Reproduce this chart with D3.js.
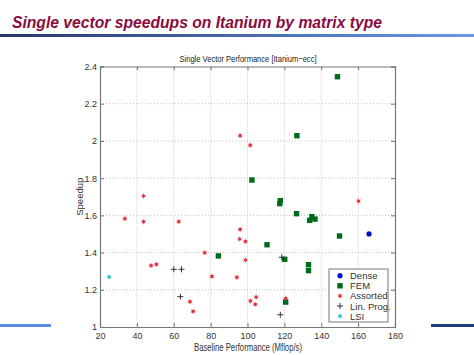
<!DOCTYPE html>
<html><head><meta charset="utf-8">
<script src="https://cdn.jsdelivr.net/npm/d3@7"></script>
<style>body{margin:0;background:#fff}svg{display:block}</style>
</head><body>
<svg id="c" width="474" height="355"></svg>
<script>
const xTicks=[20,40,60,80,100,120,140,160,180];
const yTicks=[1,1.2,1.4,1.6,1.8,2,2.2,2.4];
const seriesNames=["Dense","FEM","Assorted","Lin. Prog.","LSI"];
const denseX=[165.9], denseY=[1.50];
const femX=[148.8,126.8,102.4,117.8,117.5,126.6,134.9,133.7,136.6,149.9,110.6,84.2,120.2,133.1,133.1,120.7];
const femY=[2.345,2.028,1.79,1.679,1.663,1.609,1.593,1.573,1.580,1.489,1.442,1.382,1.364,1.335,1.303,1.134];
const assortedX=[96.0,101.5,160.2,96.0,95.7,98.9,98.9,94.2,104.7,101.6,104.2,120.7,43.6,33.5,43.6,62.7,76.8,47.7,50.6,80.7,68.8,70.5];
const assortedY=[2.028,1.977,1.677,1.525,1.473,1.46,1.36,1.267,1.161,1.14,1.122,1.154,1.704,1.582,1.566,1.566,1.399,1.33,1.337,1.272,1.136,1.084];
const linX=[118.6,117.8,60.0,64.2,63.6];
const linY=[1.375,1.066,1.31,1.31,1.163];
const lsiX=[25.0];
const lsiY=[1.269];

(function(){
const svg=d3.select("#c");
const defs=svg.append("defs");
const g1=defs.append("linearGradient").attr("id","hg").attr("x1","0").attr("x2","1");
g1.append("stop").attr("offset","0").attr("stop-color","#26386a");
g1.append("stop").attr("offset","1").attr("stop-color","#6b98ea");

// Header
svg.append("text").attr("x",12).attr("y",28)
  .attr("font-family","'Liberation Sans',Arial,sans-serif")
  .attr("font-size",16).attr("font-weight","bold").attr("font-style","italic")
  .attr("fill","#8a0b3e").attr("textLength",370).attr("lengthAdjust","spacingAndGlyphs")
  .text("Single vector speedups on Itanium by matrix type");
svg.append("rect").attr("x",0).attr("y",34).attr("width",474).attr("height",3).attr("fill","url(#hg)");
svg.append("rect").attr("x",0).attr("y",324).attr("width",51).attr("height",3).attr("fill","#5b8be8");
svg.append("rect").attr("x",431).attr("y",324).attr("width",43).attr("height",3).attr("fill","#1f3c78");

const L=100,R=395,T=66.5,B=327;
const x=d3.scaleLinear().domain([20,180]).range([L,R]);
const y=d3.scaleLinear().domain([1,2.4]).range([B,T]);
const font="'Liberation Sans',Arial,sans-serif";
const tc="#333";

// grid
const grid=svg.append("g").attr("stroke","#b0b0b0").attr("stroke-width",0.8).attr("stroke-dasharray","1,2");
xTicks.slice(1,-1).forEach(v=>grid.append("line").attr("x1",x(v)).attr("x2",x(v)).attr("y1",T).attr("y2",B));
yTicks.slice(1,-1).forEach(v=>grid.append("line").attr("x1",L).attr("x2",R).attr("y1",y(v)).attr("y2",y(v)));

// axes
const ax=svg.append("g").attr("font-family",font);
const axB=ax.append("g").attr("transform",`translate(0,${B})`).call(d3.axisBottom(x).tickValues(xTicks).tickSize(-4).tickPadding(6).tickFormat(d3.format("d")));
const axT=ax.append("g").attr("transform",`translate(0,${T})`).call(d3.axisTop(x).tickValues(xTicks).tickSize(-4).tickFormat(""));
const axL=ax.append("g").attr("transform",`translate(${L},0)`).call(d3.axisLeft(y).tickValues(yTicks).tickSize(-4).tickPadding(3).tickFormat(d=>String(+d.toFixed(1))));
const axR=ax.append("g").attr("transform",`translate(${R},0)`).call(d3.axisRight(y).tickValues(yTicks).tickSize(-4).tickFormat(""));
[axB,axT,axL,axR].forEach(a=>{
  a.selectAll(".domain").attr("stroke","#777").attr("stroke-width",1.2);
  a.selectAll(".tick line").attr("stroke","#777");
  a.selectAll("text").attr("fill",tc).attr("font-size",9).attr("font-family",font);
});

// labels
svg.append("text").attr("x",248).attr("y",62).attr("text-anchor","middle").attr("font-family",font)
  .attr("font-size",9.5).attr("fill","#222").attr("textLength",137).attr("lengthAdjust","spacingAndGlyphs")
  .text("Single Vector Performance [Itanium\u2212ecc]");
svg.append("text").attr("x",248).attr("y",351).attr("text-anchor","middle").attr("font-family",font)
  .attr("font-size",10).attr("fill",tc).attr("textLength",108).attr("lengthAdjust","spacingAndGlyphs")
  .text("Baseline Performance (Mflop/s)");
svg.append("text").attr("transform",`translate(83,${(T+B)/2}) rotate(-90)`).attr("text-anchor","middle").attr("font-family",font)
  .attr("font-size",9.5).attr("fill",tc).text("Speedup");

// marks
const colors={Dense:"#0010d0",FEM:"#006a1c",Assorted:"#e2303c","Lin. Prog.":"#333","LSI":"#20c4c4"};
function drawMark(sel,name){
  if(name==="Dense") sel.append("circle").attr("r",2.6).attr("fill",colors.Dense);
  else if(name==="FEM") sel.append("rect").attr("x",-2.7).attr("y",-2.7).attr("width",5.4).attr("height",5.4).attr("fill",colors.FEM);
  else if(name==="Lin. Prog.") sel.append("path").attr("d","M-3,0H3M0,-3V3").attr("fill","none").attr("stroke",colors["Lin. Prog."]).attr("stroke-width",1);
  else {
    sel.append("circle").attr("r",1.6).attr("fill",colors[name]);
    sel.append("path").attr("d",d3.symbol(d3.symbolAsterisk,18)()).attr("fill","none").attr("stroke",colors[name]).attr("stroke-width",0.8).attr("opacity",0.8);
  }
}
const data=[["Dense",denseX,denseY],["FEM",femX,femY],["Assorted",assortedX,assortedY],["Lin. Prog.",linX,linY],["LSI",lsiX,lsiY]];
data.forEach(([name,xs,ys])=>{
  xs.forEach((v,i)=>{
    const gg=svg.append("g").attr("transform",`translate(${x(v)},${y(ys[i])})`);
    drawMark(gg,name);
  });
});

// legend
const lg=svg.append("g");
lg.append("rect").attr("x",329).attr("y",269).attr("width",59).attr("height",53).attr("fill","#fff").attr("stroke","#777").attr("stroke-width",1);
seriesNames.forEach((n,i)=>{
  const yy=275.7+i*10.1;
  const gg=lg.append("g").attr("transform",`translate(340,${yy})`);
  drawMark(gg,n);
  lg.append("text").attr("x",350).attr("y",yy+3.5).attr("font-family",font).attr("font-size",9.5).attr("fill",tc).text(n);
});
})();
</script>
</body></html>
